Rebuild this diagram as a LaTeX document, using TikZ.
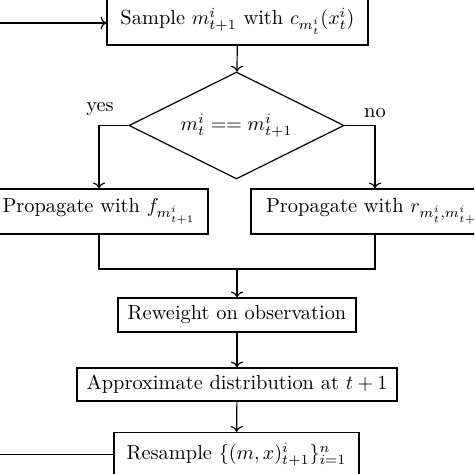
\documentclass[tikz,border=0pt]{standalone}
\usetikzlibrary{shapes.geometric,arrows.meta}
\begin{document}
\begin{tikzpicture}[x=0.5pt,y=-0.5pt, line width=0.6pt, >=To,
  font=\fontsize{10.2pt}{12.3pt}\selectfont,
  box/.style={draw, rectangle, inner sep=0pt, align=center},
  lbl/.style={anchor=base, inner sep=0pt}]
\useasboundingbox (0,0) rectangle (474,474);
\clip (0,0) rectangle (474,474);
\node[box, minimum width=130.5pt, minimum height=28pt, text height=11.5pt, text depth=3.5pt] (sample) at (237.5,17) {Sample $m^i_{t+1}$ with $c_{m^i_t}(x^i_t)$};
\node[draw, diamond, aspect=2, minimum width=107.5pt, minimum height=53.5pt, inner sep=0pt] (dec) at (236.5,125.5) {$m^i_t == m^i_{t+1}$};
\node[box, minimum width=109pt, minimum height=22.5pt] (pf) at (99,211.5) {Propagate with $f_{m^i_{t+1}}$};
\node[box, minimum width=124pt, minimum height=22.5pt] (pr) at (375,211.5) {Propagate with $r_{m^i_t,m^i_{t+1}}$};
\node[box, minimum width=119pt, minimum height=17pt] (rw) at (237,315) {Reweight on observation};
\node[box, minimum width=160pt, minimum height=16.5pt] (ap) at (237,384.5) {Approximate distribution at $t+1$};
\node[box, minimum width=122.5pt, minimum height=22pt] (rs) at (236.5,454.5) {Resample $\{(m,x)^i_{t+1}\}^n_{i=1}$};
\node[lbl] (yes) at (100,112) {yes};
\node[lbl] (no) at (375,117.5) {no};
\coordinate (jl) at (99,269);
\coordinate (jr) at (375,269);
\coordinate (jm) at (237,269);
\coordinate (loop) at (-60,300);
\draw[->] (sample) -- (dec);
\draw[->] (dec.west) -| (pf.north);
\draw[->] (dec.east) -| (pr.north);
\draw (pf.south) -- (jl) -- (jr) -- (pr.south);
\draw[->] (jm) -- (rw);
\draw[->] (rw) -- (ap);
\draw[->] (ap) -- (rs);
\draw[->] (rs.west) -| (loop) |- ([yshift=-3pt]sample.west);
\end{tikzpicture}
\end{document}
